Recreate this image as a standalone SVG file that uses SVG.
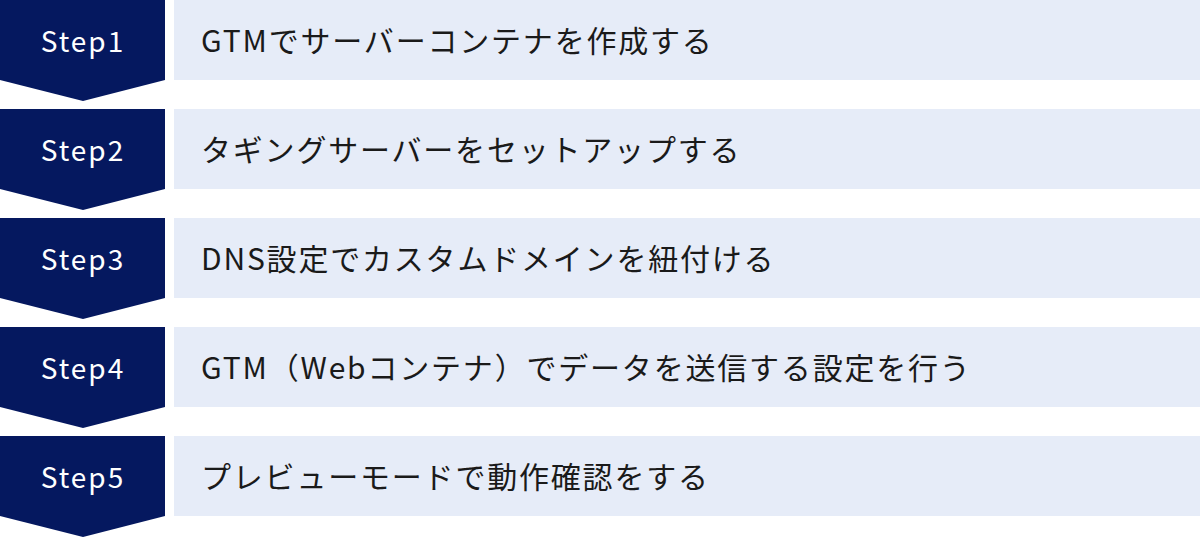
<svg xmlns="http://www.w3.org/2000/svg" width="1200" height="538" viewBox="0 0 1200 538">
<defs>
<style>
.chev{fill:#05185f;}
.bar{fill:#e6ecf8;}
.step{font-family:"Noto Sans CJK JP","Noto Sans",sans-serif;font-size:28px;fill:#ffffff;letter-spacing:2px;text-anchor:middle;}
.lbl{font-family:"Noto Sans CJK JP","Noto Sans",sans-serif;font-size:30px;fill:#1a1a1a;letter-spacing:1.8px;}
</style>
<polygon id="chevShape" points="0,0 165,0 165,80 83,101 0,80"/>
</defs>
<g id="connectors"></g>
<g id="step1" transform="translate(0,0)">
<use href="#chevShape" class="chev"/>
<rect class="bar" x="174" y="0" width="1026" height="80"/>
<text class="step" x="83" y="51.5">Step1</text>
<text class="lbl" x="201" y="51.5">GTMでサーバーコンテナを作成する</text>
</g>
<g id="step2" transform="translate(0,109)">
<use href="#chevShape" class="chev"/>
<rect class="bar" x="174" y="0" width="1026" height="80"/>
<text class="step" x="83" y="51.5">Step2</text>
<text class="lbl" x="201" y="51.5">タギングサーバーをセットアップする</text>
</g>
<g id="step3" transform="translate(0,218)">
<use href="#chevShape" class="chev"/>
<rect class="bar" x="174" y="0" width="1026" height="80"/>
<text class="step" x="83" y="51.5">Step3</text>
<text class="lbl" x="201" y="51.5">DNS設定でカスタムドメインを紐付ける</text>
</g>
<g id="step4" transform="translate(0,327)">
<use href="#chevShape" class="chev"/>
<rect class="bar" x="174" y="0" width="1026" height="80"/>
<text class="step" x="83" y="51.5">Step4</text>
<text class="lbl" x="201" y="51.5">GTM（Webコンテナ）でデータを送信する設定を行う</text>
</g>
<g id="step5" transform="translate(0,436)">
<use href="#chevShape" class="chev"/>
<rect class="bar" x="174" y="0" width="1026" height="80"/>
<text class="step" x="83" y="51.5">Step5</text>
<text class="lbl" x="201" y="51.5">プレビューモードで動作確認をする</text>
</g>
</svg>
